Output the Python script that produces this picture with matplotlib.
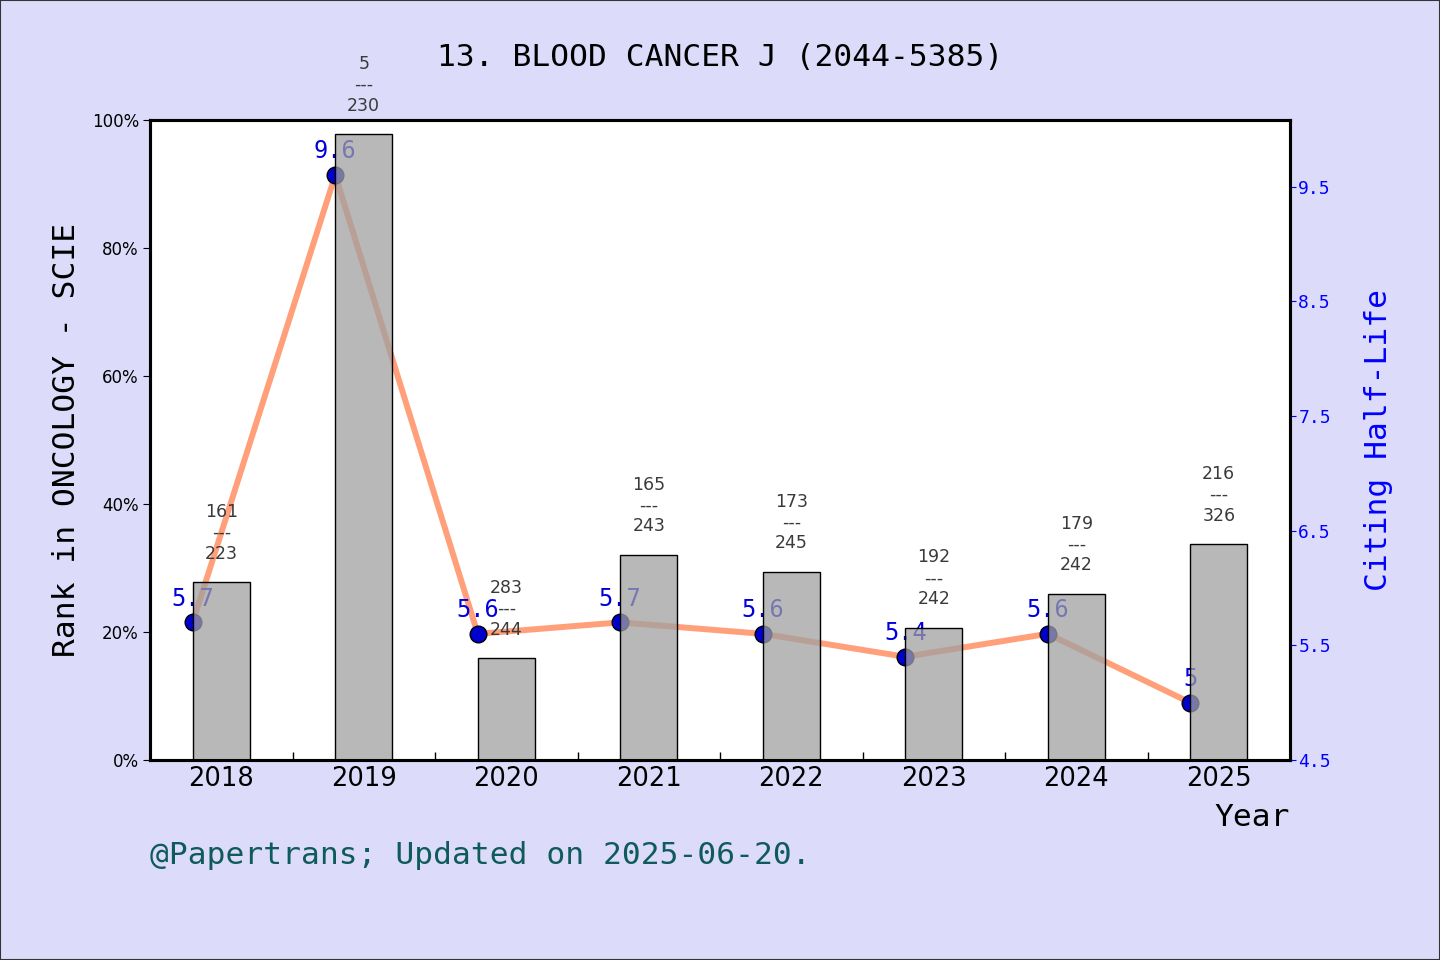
import matplotlib
matplotlib.use('Agg')
import matplotlib.pyplot as plt
from matplotlib.patches import Rectangle
from matplotlib.ticker import FixedLocator, PercentFormatter

years = ['2018', '2019', '2020', '2021', '2022', '2023', '2024', '2025']
rank = [161, 5, 283, 165, 173, 192, 179, 216]
total = [223, 230, 244, 243, 245, 242, 242, 326]
rank_pct = [27.8, 97.8, 15.9, 32.1, 29.4, 20.7, 26.0, 33.7]   # bar heights, %
half_life = [5.7, 9.6, 5.6, 5.7, 5.6, 5.4, 5.6, 5.0]
half_life_text = ['5.7', '9.6', '5.6', '5.7', '5.6', '5.4', '5.6', '5']

mono = 'DejaVu Sans Mono'
bg = '#dcdcfa'

fig = plt.figure(figsize=(14.4, 9.6), dpi=100, facecolor=bg)
ax = fig.add_axes([150/1440, 200/960, 1140/1440, 640/960])
ax2 = ax.twinx()

x = list(range(len(years)))
xl = [i - 0.2 for i in x]

# half-life line (underneath the bars)
ax.plot(xl, half_life, color='#ffa07a', lw=4.3, zorder=2)
ax.plot(xl, half_life, 'o', ms=12, mfc='#0000cd', mec='black', mew=1, zorder=3)
for xi, v, t in zip(xl, half_life, half_life_text):
    ax.annotate(t, (xi, v), xytext=(0, 17), textcoords='offset points',
                ha='center', va='center', color='#0000dd', fontsize=17, family=mono)

ax.set_ylim(4.5, 9.6 * 1.05)
ax.set_xlim(-0.5, len(years) - 0.5)
ax.yaxis.tick_right()
ax.yaxis.set_label_position('right')
ax.set_yticks([4.5, 5.5, 6.5, 7.5, 8.5, 9.5])
ax.set_yticklabels(['4.5', '5.5', '6.5', '7.5', '8.5', '9.5'])
ax.tick_params(axis='y', colors='blue', labelsize=13, length=4, pad=2, direction='out')
for lab in ax.get_yticklabels():
    lab.set_family(mono)
ax.set_ylabel('Citing Half-Life', color='blue', fontsize=22.5, family=mono, labelpad=24)

ax.set_xticks(x)
ax.set_xticklabels(years, fontsize=18.5)
ax.tick_params(axis='x', length=0, pad=4)
ax.xaxis.set_minor_locator(FixedLocator([i + 0.5 for i in x[:-1]]))
ax.tick_params(axis='x', which='minor', direction='in', length=6, width=1)

# rank bars (on top, semi-transparent)
ax2.bar(x, rank_pct, width=0.4, color=(0.627, 0.627, 0.627, 0.75), edgecolor='black', lw=1, zorder=2)
for xi, h, r, t in zip(x, rank_pct, rank, total):
    ax2.annotate(f'{r}\n---\n{t}', (xi, h), xytext=(0, 14), textcoords='offset points',
                 ha='center', va='bottom', multialignment='center',
                 color='#3a3a3a', fontsize=12.5, linespacing=1.2)
ax2.set_ylim(0, 100)
ax2.yaxis.tick_left()
ax2.yaxis.set_label_position('left')
ax2.yaxis.set_major_formatter(PercentFormatter(decimals=0))
ax2.set_yticks([0, 20, 40, 60, 80, 100])
ax2.tick_params(axis='y', labelsize=12, length=5, pad=3)
ax2.set_ylabel('Rank in ONCOLOGY - SCIE', fontsize=22.5, family=mono, labelpad=8)

for a in (ax, ax2):
    for s in a.spines.values():
        s.set_linewidth(2.2)

fig.text(720/1440, 1 - 57/960, '13. BLOOD CANCER J (2044-5385)', ha='center', va='center',
         fontsize=22.5, family=mono)
fig.text(1290/1440, 1 - 817/960, 'Year', ha='right', va='center', fontsize=22.5, family=mono)
fig.text(150/1440, 1 - 855/960, '@Papertrans; Updated on 2025-06-20.', ha='left', va='center',
         fontsize=22.5, family=mono, color='#0f5a5a')

fig.patches.append(Rectangle((0, 0), 1, 1, transform=fig.transFigure, fill=False,
                             edgecolor='#333333', lw=1.5))

fig.savefig('out.png', dpi=100, facecolor=bg)
